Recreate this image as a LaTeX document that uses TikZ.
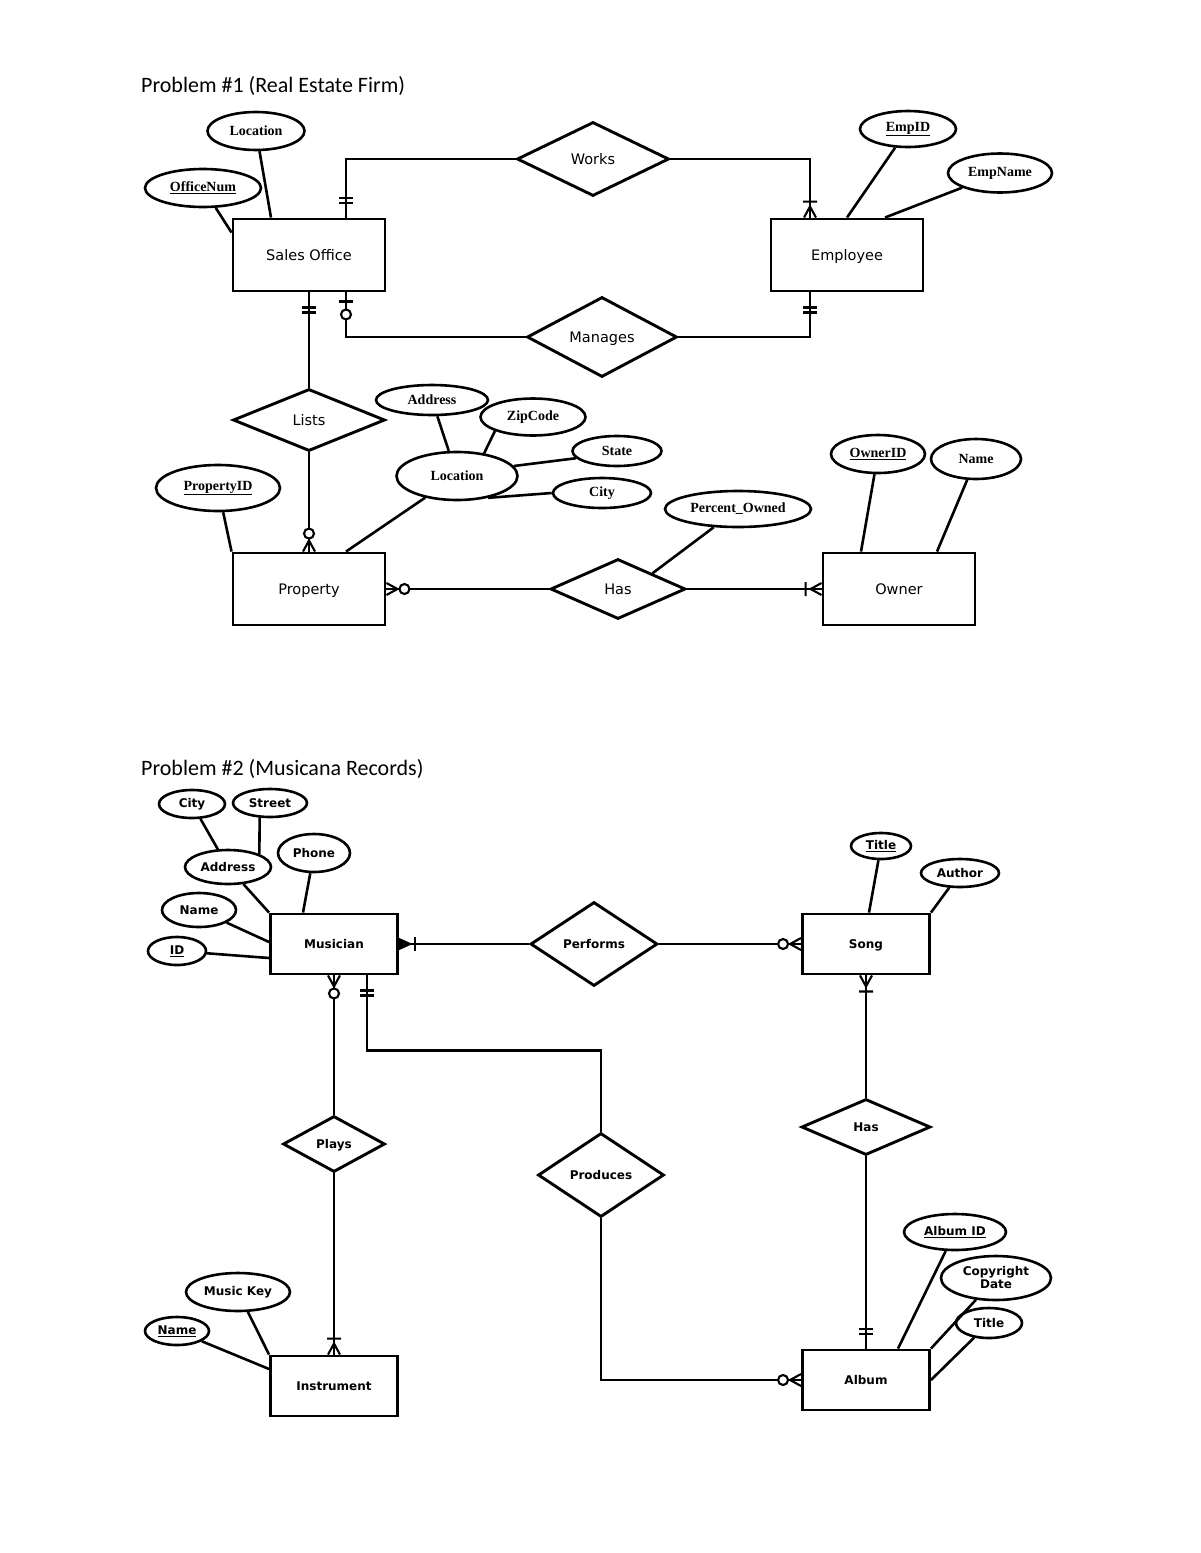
\documentclass[tikz,border=0pt]{standalone}
\usepackage{fontspec}
\setmainfont{DejaVu Sans}
\newfontfamily\dvs{DejaVu Sans}
\newfontfamily\serifb{Liberation Serif}
\newfontfamily\titlef{Carlito}
\usetikzlibrary{shapes.geometric,decorations.markings}
\tikzset{
  ent/.style={draw,rectangle,line width=2.9pt,inner sep=0pt,minimum width=152pt,minimum height=72pt,text height=10.6pt,text depth=0pt,font=\dvs\fontsize{14.5}{16}\selectfont},
  entb/.style={draw,rectangle,line width=2.9pt,inner sep=0pt,minimum width=127pt,minimum height=60pt,text height=8.8pt,text depth=0pt,font=\dvs\bfseries\fontsize{12}{13}\selectfont},
  rel/.style={draw,diamond,line width=2.9pt,inner sep=0pt,text height=10.6pt,text depth=0pt,font=\dvs\fontsize{14.5}{16}\selectfont},
  relb/.style={draw,diamond,line width=2.9pt,inner sep=0pt,text height=8.8pt,text depth=0pt,font=\dvs\bfseries\fontsize{12}{13}\selectfont},
  attr/.style={draw,ellipse,line width=2.6pt,inner sep=0pt,font=\serifb\bfseries\fontsize{14}{16}\selectfont},
  attrb/.style={draw,ellipse,line width=2.6pt,inner sep=0pt,align=center,font=\dvs\bfseries\fontsize{12}{13}\selectfont},
  ttl/.style={anchor=west,inner sep=0pt,font=\titlef\fontsize{22}{25}\selectfont},
  conn/.style={line width=2.9pt},
  al/.style={line width=2.6pt},
  mk/.style={line width=2.1pt},
  endmark/.style={postaction={decorate,decoration={markings,mark=at position 1 with {#1}}}},
  mandone/.style={endmark={\draw[mk] (-15,-7)--(-15,7) (-20,-7)--(-20,7);}},
  zeroone/.style={endmark={\draw[mk] (-9,-7)--(-9,7); \draw[mk,fill=white] (-22,0) circle[radius=5];}},
  onemany/.style={endmark={\draw[mk] (-11,0)--(0,6) (-11,0)--(0,-6) (-16,-7)--(-16,7);}},
  onemanyf/.style={endmark={\draw[mk,fill=black] (-11,0)--(0,5)--(0,-5)--cycle; \draw[mk] (-16,-7)--(-16,7);}},
  zeromany/.style={endmark={\draw[mk] (-11,0)--(0,6) (-11,0)--(0,-6); \draw[mk,fill=white] (-18,0) circle[radius=5];}},
}
\begin{document}
\begin{tikzpicture}[x=1pt,y=-1pt]
\useasboundingbox[fill=white] (0,0) rectangle (1200,1553);

% ---------- Problem 1 ----------
\node[ttl] (t1) at (141,86) {Problem \#1 (Real Estate Firm)};

\node[ent] (so) at (309,255) {Sales Office};
\node[ent] (emp) at (847,255) {Employee};
\node[rel,minimum width=152pt,minimum height=74pt] (works) at (593,159) {Works};
\node[rel,minimum width=150pt,minimum height=80pt] (man) at (602,337) {Manages};
\node[rel,minimum width=152pt,minimum height=62pt] (lists) at (309,420) {Lists};
\node[ent] (prop) at (309,589) {Property};
\node[ent] (own) at (899,589) {Owner};
\node[rel,minimum width=135pt,minimum height=60pt] (has) at (618,589) {Has};

\node[attr,minimum width=97pt,minimum height=38pt] (loc1) at (256,131) {Location};
\node[attr,minimum width=116pt,minimum height=38pt] (offnum) at (203,188) {\underline{OfficeNum}};
\node[attr,minimum width=96pt,minimum height=36pt] (empid) at (908,129) {\underline{EmpID}};
\node[attr,minimum width=104pt,minimum height=39pt] (empname) at (1000,173) {EmpName};
\node[attr,minimum width=124pt,minimum height=46pt] (propid) at (218,488) {\underline{PropertyID}};
\node[attr,minimum width=121pt,minimum height=48pt] (loc2) at (457,476) {Location};
\node[attr,minimum width=112pt,minimum height=30pt] (addr) at (432,400) {Address};
\node[attr,minimum width=105pt,minimum height=37pt] (zip) at (533,417) {ZipCode};
\node[attr,minimum width=89pt,minimum height=30pt] (state) at (617,451) {State};
\node[attr,minimum width=98pt,minimum height=30pt] (city) at (602,493) {City};
\node[attr,minimum width=94pt,minimum height=38pt] (ownid) at (878,454) {\underline{OwnerID}};
\node[attr,minimum width=90pt,minimum height=40pt] (oname) at (976,459) {Name};
\node[attr,minimum width=146pt,minimum height=36pt] (pct) at (738,509) {Percent\_Owned};

\draw[conn,mandone] (works.west) -| ([xshift=37pt]so.north);
\draw[conn,onemany] (works.east) -| ([xshift=-37pt]emp.north);
\draw[conn,zeroone] (man.west) -| ([xshift=37pt]so.south);
\draw[conn,mandone] (man.east) -| ([xshift=-37pt]emp.south);
\draw[conn,mandone] (lists.north) -- (so.south);
\draw[conn,zeromany] (lists.south) -- (prop.north);
\draw[conn,zeromany] (has.west) -- (prop.east);
\draw[conn,onemany] (has.east) -- (own.west);

\draw[al] (loc1) -- ([xshift=-38pt]so.north);
\draw[al] (offnum) -- ([yshift=-15pt]so.north west);
\draw[al] (empid) -- (emp.north);
\draw[al] (empname) -- ([xshift=38pt]emp.north);
\draw[al] (propid) -- (prop.north west);
\draw[al] (loc2) -- ([xshift=37pt]prop.north);
\draw[al] (addr) -- (loc2);
\draw[al] (zip.south west) -- (loc2.40);
\draw[al] (state.190) -- (loc2.10);
\draw[al] (city.west) -- (loc2.-35);
\draw[al] (ownid) -- ([xshift=-38pt]own.north);
\draw[al] (oname) -- ([xshift=38pt]own.north);
\draw[al] (pct) -- (has.north east);

% ---------- Problem 2 ----------
\node[ttl] (t2) at (141,769) {Problem \#2 (Musicana Records)};

\node[entb] (mus) at (334,944) {Musician};
\node[entb] (song) at (866,944) {Song};
\node[relb,minimum width=127pt,minimum height=84pt] (perf) at (594,944) {Performs};
\node[relb,minimum width=129pt,minimum height=56pt] (has2) at (866,1127) {Has};
\node[entb] (album) at (866,1380) {Album};
\node[relb,minimum width=126pt,minimum height=84pt] (prod) at (601,1175) {Produces};
\node[relb,minimum width=102pt,minimum height=56pt] (plays) at (334,1144) {Plays};
\node[entb] (inst) at (334,1386) {Instrument};

\node[attrb,minimum width=66pt,minimum height=28pt] (city2) at (192,804) {City};
\node[attrb,minimum width=74pt,minimum height=28pt] (street) at (270,803) {Street};
\node[attrb,minimum width=86pt,minimum height=34pt] (addr2) at (228,867) {Address};
\node[attrb,minimum width=72pt,minimum height=38pt] (phone) at (314,853) {Phone};
\node[attrb,minimum width=74pt,minimum height=34pt] (name2) at (199,910) {Name};
\node[attrb,minimum width=58pt,minimum height=28pt] (id) at (177,951) {\underline{ID}};
\node[attrb,minimum width=60pt,minimum height=26pt] (title) at (881,846) {\underline{Title}};
\node[attrb,minimum width=78pt,minimum height=28pt] (author) at (960,873) {Author};
\node[attrb,minimum width=102pt,minimum height=36pt] (albumid) at (955,1232) {\underline{Album ID}};
\node[attrb,minimum width=110pt,minimum height=44pt] (copy) at (996,1278) {Copyright\\Date};
\node[attrb,minimum width=66pt,minimum height=30pt] (title2) at (989,1323) {Title};
\node[attrb,minimum width=104pt,minimum height=38pt] (mkey) at (238,1292) {Music Key};
\node[attrb,minimum width=64pt,minimum height=28pt] (name3) at (177,1331) {\underline{Name}};

\draw[conn,onemanyf] (perf.west) -- (mus.east);
\draw[conn,zeromany] (perf.east) -- (song.west);
\draw[conn,onemany] (has2.north) -- (song.south);
\draw[conn,mandone] (has2.south) -- (album.north);
\draw[conn,mandone] (prod.north) -- ++(0,-81) -| ([xshift=33pt]mus.south);
\draw[conn,zeromany] (prod.south) |- (album.west);
\draw[conn,zeromany] (plays.north) -- (mus.south);
\draw[conn,onemany] (plays.south) -- (inst.north);

\draw[al] (city2) -- (addr2);
\draw[al] (street.235) -- (addr2.north east);
\draw[al] (addr2) -- (mus.north west);
\draw[al] (phone) -- ([xshift=-31pt]mus.north);
\draw[al] (name2) -- ([yshift=2pt]mus.west);
\draw[al] (id) -- ([yshift=-14pt]mus.west);
\draw[al] (title) -- ([xshift=3pt]song.north);
\draw[al] (author) -- (song.north east);
\draw[al] (albumid) -- ([xshift=32pt]album.north);
\draw[al] (copy) -- (album.north east);
\draw[al] (title2) -- (album.east);
\draw[al] (mkey) -- (inst.north west);
\draw[al] (name3) -- ([yshift=17pt]inst.west);
\end{tikzpicture}
\end{document}
